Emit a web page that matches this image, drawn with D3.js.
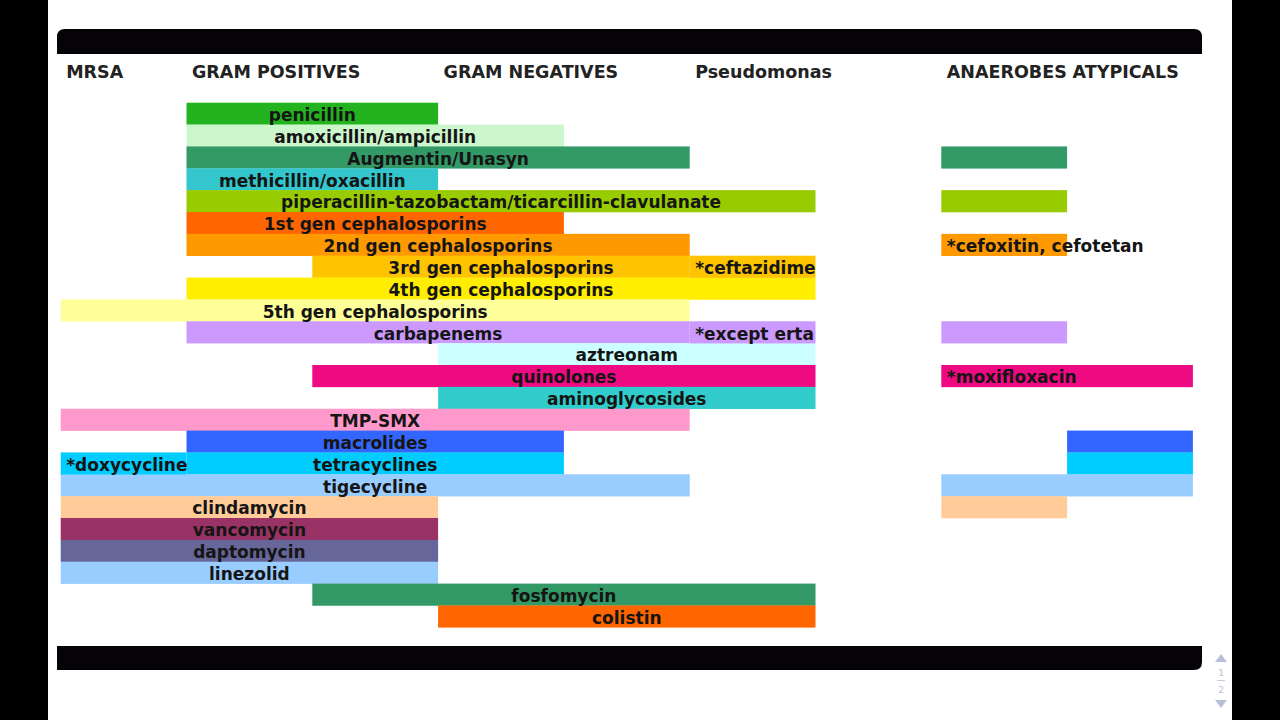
<!DOCTYPE html>
<html><head><meta charset="utf-8">
<script src="https://cdn.jsdelivr.net/npm/d3@7/dist/d3.min.js"></script>
<style>html,body{margin:0;padding:0;background:#fff;}svg{display:block;}</style>
</head><body><svg id="c" width="1280" height="720"></svg>
<script>
// column headers
const headers = ["MRSA","GRAM POSITIVES","GRAM NEGATIVES","Pseudomonas","ANAEROBES","ATYPICALS"];
const headerCols = [0, 1, 3, 5, 7, 8];
// drugs (rows) and main bar spans in column units [start, end)
const drugs = ["penicillin","amoxicillin/ampicillin","Augmentin/Unasyn","methicillin/oxacillin",
  "piperacillin-tazobactam/ticarcillin-clavulanate","1st gen cephalosporins","2nd gen cephalosporins",
  "3rd gen cephalosporins","4th gen cephalosporins","5th gen cephalosporins","carbapenems","aztreonam",
  "quinolones","aminoglycosides","TMP-SMX","macrolides","tetracyclines","tigecycline","clindamycin",
  "vancomycin","daptomycin","linezolid","fosfomycin","colistin"];
const colors = ["#22b31f","#ccf7cc","#339966","#33c6cc","#99cc00","#ff6600","#ff9900","#ffc400",
  "#ffee00","#ffff99","#cc99ff","#ccffff","#ee0a80","#33cccc","#ff99cc","#3366ff","#00ccff",
  "#99ccff","#ffcc99","#993366","#666699","#99ccff","#339966","#ff6600"];
const mainStart = [1,1,1,1,1,1,1,2,1,0,1,3,2,3,0,1,1,0,0,0,0,0,2,3];
const mainEnd   = [3,4,5,3,6,4,5,5,6,5,5,6,6,6,5,4,4,5,3,3,3,3,6,6];
// extra segments: row, start col, end col, note text
const extraRow   = [2,4,6,7,10,10,12,15,16,16,17,18];
const extraStart = [7,7,7,5,5,7,7,8,0,8,7,7];
const extraEnd   = [8,8,8,6,6,8,9,9,1,9,9,8];
const extraNote  = ["","","*cefoxitin, cefotetan","*ceftazidime","*except erta","","*moxifloxacin","","*doxycycline","","",""];

const svg = d3.select("#c");
const x = d3.scaleLinear().domain([0,9]).range([60.7,1192.9]);
const y = d3.scaleBand().domain(d3.range(drugs.length)).range([102.7,627.3]).padding(0);
const FONT = "'DejaVu Sans', Verdana, sans-serif";
const FS = 17;
const DY = 7.3;

// side black bands
svg.append("rect").attr("x",0).attr("y",0).attr("width",48).attr("height",720).attr("fill","#000");
svg.append("rect").attr("x",1232).attr("y",0).attr("width",48).attr("height",720).attr("fill","#000");
// top / bottom black bars
svg.append("path").attr("fill","#050307")
  .attr("d","M57,54 L57,37 Q57,29 65,29 L1194,29 Q1202,29 1202,37 L1202,54 Z");
svg.append("path").attr("fill","#050307")
  .attr("d","M57,646 L1202,646 L1202,662 Q1202,670 1194,670 L57,670 Z");

// headers
svg.selectAll("text.h").data(headers).enter().append("text")
  .attr("x",(d,i)=>x(headerCols[i])+5.5).attr("y",77.5)
  .attr("font-family",FONT).attr("font-weight","bold").attr("font-size",17.5)
  .attr("fill","#222").text(d=>d);

// main bars
const rows = d3.range(drugs.length);
svg.selectAll("rect.m").data(rows).enter().append("rect")
  .attr("x",i=>x(mainStart[i])).attr("width",i=>x(mainEnd[i])-x(mainStart[i]))
  .attr("y",i=>y(i)).attr("height",y.bandwidth()+0.3).attr("fill",i=>colors[i]);
// extra bars
const ex = d3.range(extraRow.length);
svg.selectAll("rect.e").data(ex).enter().append("rect")
  .attr("x",k=>x(extraStart[k])).attr("width",k=>x(extraEnd[k])-x(extraStart[k]))
  .attr("y",k=>y(extraRow[k])).attr("height",y.bandwidth()+0.3).attr("fill",k=>colors[extraRow[k]]);
// main labels
svg.selectAll("text.m").data(rows).enter().append("text")
  .attr("x",i=>(x(mainStart[i])+x(mainEnd[i]))/2).attr("y",i=>y(i)+y.bandwidth()/2+DY)
  .attr("text-anchor","middle").attr("font-family",FONT).attr("font-weight","bold").attr("font-size",FS)
  .attr("fill","#151515").text(i=>drugs[i]);
// notes
svg.selectAll("text.e").data(ex.filter(k=>extraNote[k])).enter().append("text")
  .attr("x",k=>x(extraStart[k])+5.5).attr("y",k=>y(extraRow[k])+y.bandwidth()/2+DY)
  .attr("font-family",FONT).attr("font-weight","bold").attr("font-size",FS)
  .attr("fill","#151515").text(k=>extraNote[k]);

// page indicator
const ind = svg.append("g").attr("fill","#b8c0d8");
ind.append("path").attr("d","M1215,662 L1227,662 L1221,654 Z");
ind.append("path").attr("d","M1215,700 L1227,700 L1221,708 Z");
ind.append("text").attr("x",1221).attr("y",676).attr("text-anchor","middle").attr("font-family",FONT).attr("font-size",9).text("1");
ind.append("rect").attr("x",1217).attr("y",680).attr("width",8).attr("height",0.8);
ind.append("text").attr("x",1221).attr("y",693).attr("text-anchor","middle").attr("font-family",FONT).attr("font-size",9).text("2");
</script></body></html>
